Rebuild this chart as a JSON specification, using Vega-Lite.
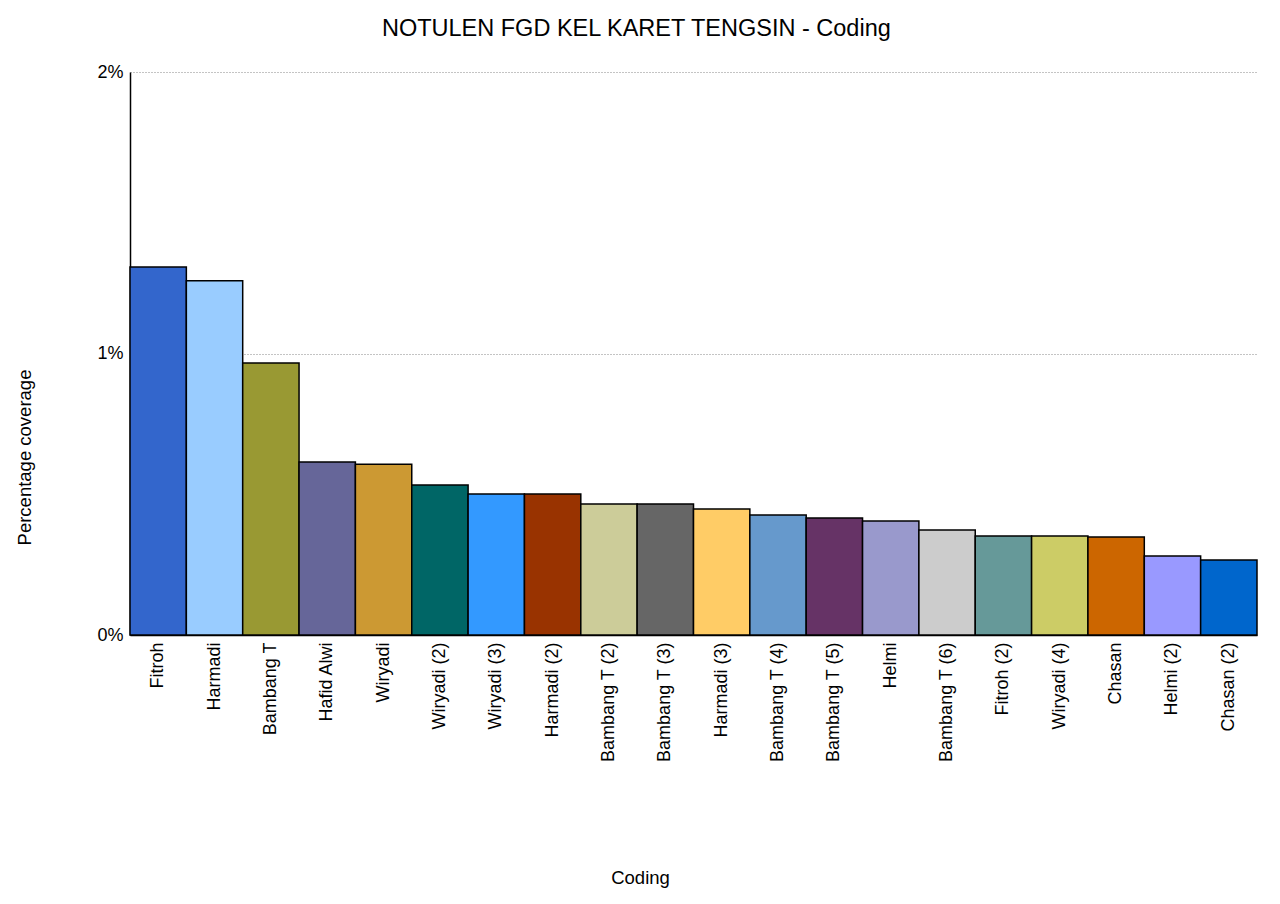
{
  "$schema": "https://vega.github.io/schema/vega-lite/v6.json",
  "width": 1127,
  "height": 563,
  "autosize": {"type": "none"},
  "padding": {"left": 130, "top": 72, "right": 23, "bottom": 269},
  "background": "white",
  "title": {
    "text": "NOTULEN FGD KEL KARET TENGSIN - Coding",
    "font": "Liberation Sans",
    "fontSize": 23.5,
    "fontWeight": "normal",
    "color": "black",
    "anchor": "middle",
    "frame": "bounds",
    "offset": 23
  },
  "config": {
    "view": {"stroke": null},
    "font": "Liberation Sans"
  },
  "data": {
    "values": [
      {"Coding": "Fitroh", "coverage": 0.01307},
      {"Coding": "Harmadi", "coverage": 0.01258},
      {"Coding": "Bambang T", "coverage": 0.00966},
      {"Coding": "Hafid Alwi", "coverage": 0.00615},
      {"Coding": "Wiryadi", "coverage": 0.00607},
      {"Coding": "Wiryadi (2)", "coverage": 0.00533},
      {"Coding": "Wiryadi (3)", "coverage": 0.00501},
      {"Coding": "Harmadi (2)", "coverage": 0.00501},
      {"Coding": "Bambang T (2)", "coverage": 0.00465},
      {"Coding": "Bambang T (3)", "coverage": 0.00465},
      {"Coding": "Harmadi (3)", "coverage": 0.00448},
      {"Coding": "Bambang T (4)", "coverage": 0.00426},
      {"Coding": "Bambang T (5)", "coverage": 0.00416},
      {"Coding": "Helmi", "coverage": 0.00405},
      {"Coding": "Bambang T (6)", "coverage": 0.00373},
      {"Coding": "Fitroh (2)", "coverage": 0.00352},
      {"Coding": "Wiryadi (4)", "coverage": 0.00352},
      {"Coding": "Chasan", "coverage": 0.00348},
      {"Coding": "Helmi (2)", "coverage": 0.00281},
      {"Coding": "Chasan (2)", "coverage": 0.00266}
    ]
  },
  "mark": {"type": "bar", "stroke": "black", "strokeWidth": 1.5},
  "encoding": {
    "x": {
      "field": "Coding",
      "type": "nominal",
      "sort": null,
      "scale": {"paddingInner": 0, "paddingOuter": 0},
      "axis": {
        "title": "Coding",
        "titleFont": "Liberation Sans",
        "titleFontSize": 18.5,
        "titleFontWeight": "normal",
        "titleColor": "black",
        "titleX": 510,
        "titleY": 242,
        "titleAnchor": "middle",
        "titleAlign": "center",
        "titleBaseline": "middle",
        "labelAngle": -90,
        "labelFont": "Liberation Sans",
        "labelFontSize": 18,
        "labelColor": "black",
        "labelPadding": 7,
        "ticks": false,
        "domainColor": "black",
        "domainWidth": 1.5,
        "grid": false
      }
    },
    "y": {
      "field": "coverage",
      "type": "quantitative",
      "scale": {"domain": [0, 0.02], "nice": false},
      "axis": {
        "title": "Percentage coverage",
        "titleFont": "Liberation Sans",
        "titleFontSize": 18.5,
        "titleFontWeight": "normal",
        "titleColor": "black",
        "titleX": -106,
        "titleY": 385,
        "titleAlign": "center",
        "titleBaseline": "middle",
        "values": [0, 0.01, 0.02],
        "format": ".0%",
        "labelFont": "Liberation Sans",
        "labelFontSize": 18,
        "labelColor": "black",
        "labelPadding": 7,
        "ticks": false,
        "domainColor": "black",
        "domainWidth": 1.5,
        "grid": true,
        "gridColor": "#888888",
        "gridDash": [1, 2],
        "gridWidth": 1
      }
    },
    "color": {
      "field": "Coding",
      "type": "nominal",
      "legend": null,
      "scale": {
        "domain": ["Fitroh", "Harmadi", "Bambang T", "Hafid Alwi", "Wiryadi", "Wiryadi (2)", "Wiryadi (3)", "Harmadi (2)", "Bambang T (2)", "Bambang T (3)", "Harmadi (3)", "Bambang T (4)", "Bambang T (5)", "Helmi", "Bambang T (6)", "Fitroh (2)", "Wiryadi (4)", "Chasan", "Helmi (2)", "Chasan (2)"],
        "range": ["#3366CC", "#99CCFF", "#999933", "#666699", "#CC9933", "#006666", "#3399FF", "#993300", "#CCCC99", "#666666", "#FFCC66", "#6699CC", "#663366", "#9999CC", "#CCCCCC", "#669999", "#CCCC66", "#CC6600", "#9999FF", "#0066CC"]
      }
    }
  }
}
